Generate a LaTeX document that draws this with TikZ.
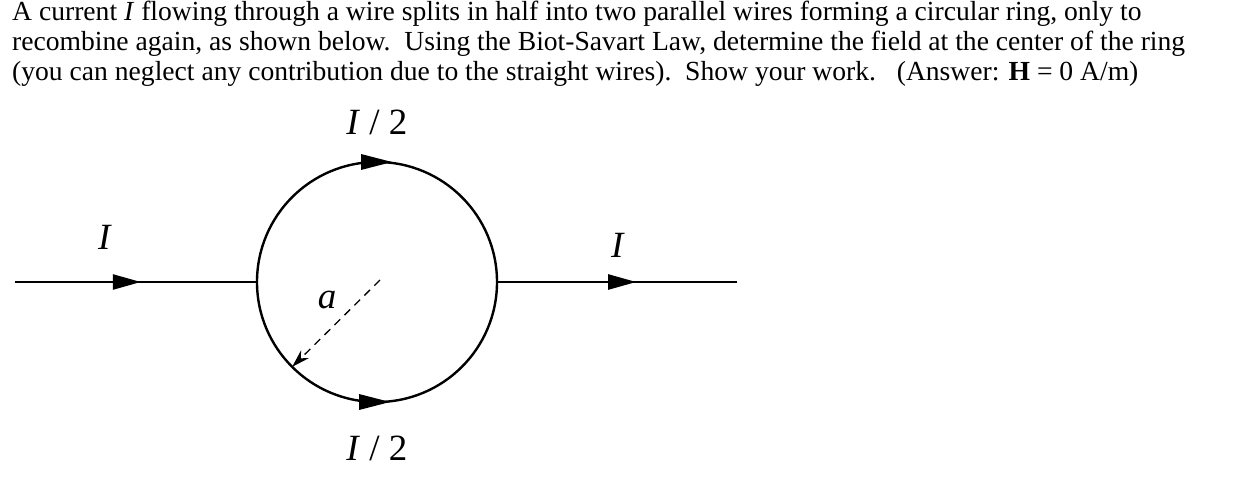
\documentclass[tikz,border=0pt]{standalone}
\usepackage{fontspec}
\setmainfont{Liberation Serif}
\usetikzlibrary{arrows.meta,decorations.markings,calc}
\begin{document}
\begin{tikzpicture}[x=1pt,y=-1pt,
  wire/.style={line width=2.4pt},
  mid/.style={postaction={decorate},decoration={markings,mark=at position #1 with {\arrow{Triangle[length=28pt,width=15pt]}}}},
  tip/.style={fill=black},
  lbl/.style={font=\fontsize{37}{40}\selectfont}]
\useasboundingbox (0,0) rectangle (1244,482);
\node[anchor=north west,align=left,inner sep=0pt,font=\fontsize{27.6}{30}\selectfont] (txt) at (12,1)
{A current \textit{I} flowing through a wire splits in half into two parallel wires forming a circular ring, only to\\
recombine again, as shown below.\ \ Using the Biot-Savart Law, determine the field at the center of the ring\\
(you can neglect any contribution due to the straight wires).\ \ Show your work.\ \ \ (Answer: \textbf{H} = 0 A/m)};
\coordinate (c) at (377,282);
\coordinate (s) at (380,280);
\coordinate (L) at (257,282);
\coordinate (R) at (497,282);
\coordinate (w0) at (15,282);
\coordinate (w1) at (737,282);
\coordinate (rim) at ($(c)+(135:120)$);
\draw[wire,mid=0.52] (w0) -- (L);
\draw[wire,mid=0.58] (R) -- (w1);
\draw[wire] (c) circle[radius=120];
\fill[tip] (361,154) -- (392,162) -- (361,170) -- cycle;
\fill[tip] (359,394) -- (390,402) -- (359,410) -- cycle;
\draw[line width=1.3pt,dash pattern=on 8pt off 6pt,-{Stealth[length=18pt,width=11pt]}] (s) -- (rim);
\node[lbl] (t2) at (377,122) {\textit{I} / 2};
\node[lbl] (b2) at (377,448) {\textit{I} / 2};
\node[lbl] (il) at (105,237) {\textit{I}};
\node[lbl] (ir) at (618,245) {\textit{I}};
\node[lbl] (a) at (327,300) {\textit{a}};
\end{tikzpicture}
\end{document}
